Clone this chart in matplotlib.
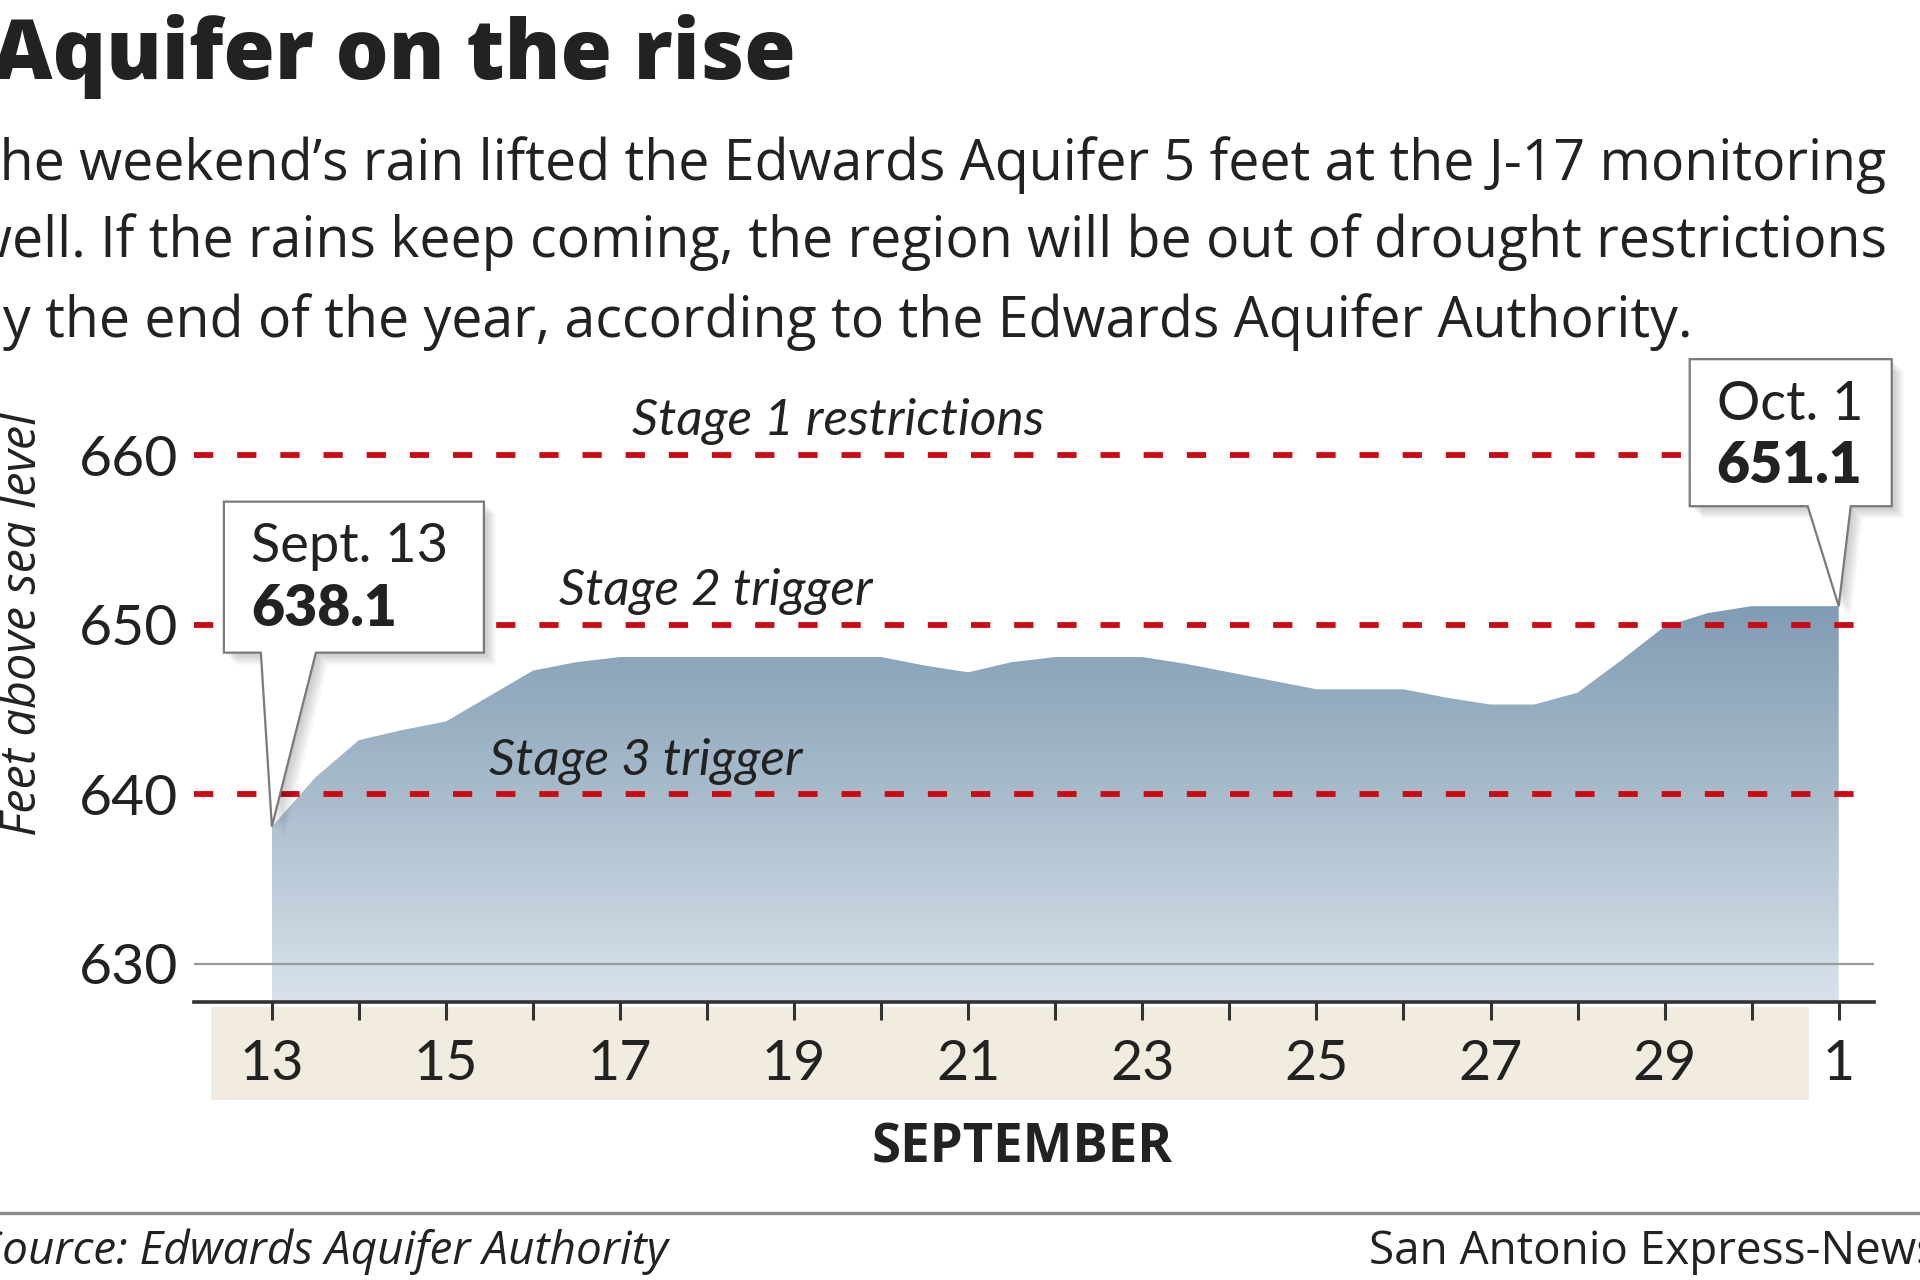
import matplotlib
matplotlib.use('Agg')
import matplotlib.pyplot as plt
import numpy as np
from matplotlib.patches import Polygon, Rectangle
from matplotlib.transforms import IdentityTransform, blended_transform_factory
from matplotlib.colors import LinearSegmentedColormap

plt.rcParams['font.family'] = ['Open Sans', 'DejaVu Sans']

# Aquifer level at J-17 (day 31 = Oct. 1)
days = [13, 13.5, 14, 14.5, 15, 15.5, 16, 16.5, 17, 18, 19, 20, 20.5, 21, 21.5,
        22, 23, 23.5, 24, 24.5, 25, 26, 26.5, 27, 27.5, 28, 28.5, 29, 29.5, 30, 31]
level = [638.1, 641.0, 643.2, 643.8, 644.3, 645.8, 647.3, 647.8, 648.1, 648.1,
         648.1, 648.1, 647.6, 647.2, 647.8, 648.1, 648.1, 647.7, 647.2, 646.7,
         646.2, 646.2, 645.7, 645.3, 645.3, 646.0, 647.9, 649.9, 650.7, 651.1, 651.1]

stage_levels = [660, 650, 640]
stage_labels = ['Stage 1 restrictions', 'Stage 2 trigger', 'Stage 3 trigger']
stage_label_x = [19.5, 18.1, 17.3]

tick_days = list(range(13, 32))
label_days = [13, 15, 17, 19, 21, 23, 25, 27, 29, 31]
label_text = ['13', '15', '17', '19', '21', '23', '25', '27', '29', '1']
y_ticks = [630, 640, 650, 660]

RED = '#cc0a14'
INK = '#222222'
NUM = ['Lato', 'DejaVu Sans']

fig = plt.figure(figsize=(19.2, 12.8), dpi=100)
ax = fig.add_axes([0.1008, 0.2172, 0.875, 0.5053])
ax.set_facecolor('none')
ax.set_xlim(12.1, 31.4)
ax.set_ylim(627.76, 665.9)

# gradient-filled area
cmap = LinearSegmentedColormap.from_list('aq', ['#d9e2eb', '#a9bccc', '#7d9ab2'])
poly = ax.fill_between(days, level, 627.76, color='none', lw=0)
grad = np.linspace(0, 1, 256).reshape(-1, 1)
im = ax.imshow(grad, cmap=cmap, origin='lower', aspect='auto',
               extent=[days[0], days[-1], 627.76, 652], zorder=1)
path = poly.get_paths()[0]
im.set_clip_path(path, transform=ax.transData)

# grid line at 630 and stage lines
ax.axhline(630, color='#9a9a9a', lw=1.6, zorder=2)
for lv in stage_levels:
    ax.axhline(lv, color=RED, lw=4.2, dashes=(3.3, 4.1), zorder=3)
for lv, lab, lx in zip(stage_levels, stage_labels, stage_label_x):
    ax.annotate(lab, (lx, lv), xytext=(0, 24), textcoords='offset points',
                ha='center', va='center', fontsize=37, style='italic', color=INK,
                family=NUM, zorder=4)

for s in ['top', 'right', 'left']:
    ax.spines[s].set_visible(False)
ax.spines['bottom'].set_color('#333333')
ax.spines['bottom'].set_linewidth(2.6)
ax.spines['bottom'].set_zorder(5)

ax.set_yticks(y_ticks)
ax.set_yticklabels([str(v) for v in y_ticks], family=NUM)
ax.tick_params(axis='y', length=0, pad=11, labelsize=41, labelcolor=INK)
ax.set_xticks(tick_days, minor=True)
ax.set_xticks(label_days)
ax.set_xticklabels(label_text, family=NUM)
ax.tick_params(axis='x', which='both', direction='out', length=13, width=2.2,
               color='#333333', pad=14, labelsize=40, labelcolor=INK)

# beige band behind the day labels
trans = blended_transform_factory(ax.transData, fig.transFigure)
fig.add_artist(Rectangle((12.3, 1 - 898 / 1045), 30.66 - 12.3, (898 - 822) / 1045,
                         transform=trans, facecolor='#f1ebe0', edgecolor='none', zorder=-1))

fig.text(0.5325, 0.1024, 'SEPTEMBER', ha='center', va='center', fontsize=38,
         fontweight='bold', color=INK)
fig.text(0.012, 0.512, 'Feet above sea level', rotation=90, ha='center', va='center',
         fontsize=35, style='italic', color=INK)

# title and intro
fig.text(-0.004, 0.938, 'Aquifer on the rise', ha='left', va='baseline', fontsize=60,
         fontweight='heavy', color=INK)
intro = ["The weekend\u2019s rain lifted the Edwards Aquifer 5 feet at the J-17 monitoring",
         "well. If the rains keep coming, the region will be out of drought restrictions",
         "by the end of the year, according to the Edwards Aquifer Authority."]
for line, yb in zip(intro, [0.8593, 0.799, 0.737]):
    fig.text(-0.016, yb, line, ha='left', va='baseline', fontsize=40, color=INK)

# footer
fig.add_artist(plt.Line2D([0, 1], [0.0526, 0.0526], transform=fig.transFigure,
                          color='#8a8a8a', lw=2.4))
fig.text(-0.011, 0.022, 'Source: Edwards Aquifer Authority', ha='left', va='center',
         fontsize=33, style='italic', color=INK)
fig.text(0.713, 0.022, 'San Antonio Express-News', ha='left', va='center',
         fontsize=33, color=INK)


def callout(xd, yd, top_line, value, box, base):
    # box = (left, right, bottom, top) in pixels relative to the tip
    tx, ty = ax.transData.transform((xd, yd))
    l, r, b, t = box
    pl, pr = base
    pts = [(l, b), (pl, b), (0, 0), (pr, b), (r, b), (r, t), (l, t)]
    pts = [(tx + px, ty + py) for px, py in pts]
    for k in range(6, 0, -1):
        sh = [(px + 2 * k, py - 2 * k) for px, py in pts]
        fig.add_artist(Polygon(sh, closed=True, transform=IdentityTransform(),
                               facecolor='black', edgecolor='none', alpha=0.035, zorder=8))
    fig.add_artist(Polygon(pts, closed=True, transform=IdentityTransform(),
                           facecolor='white', edgecolor='#7a7a7a', lw=1.6, zorder=9))
    fig.text(tx + l + 27, ty + t - 45, top_line, transform=IdentityTransform(),
             ha='left', va='center', fontsize=39, color=INK, family=NUM, zorder=10)
    fig.text(tx + l + 27, ty + t - 107, value, transform=IdentityTransform(),
             ha='left', va='center', fontsize=41, fontweight='heavy', color=INK,
             family=NUM, zorder=10)


callout(days[0], level[0], 'Sept. 13', '%.1f' % level[0], (-48, 212, 174, 325), (-11, 44))
callout(days[-1], level[-1], 'Oct. 1', '%.1f' % level[-1], (-149, 53, 100, 247), (-31, 12))

fig.savefig('out.png', dpi=100)
